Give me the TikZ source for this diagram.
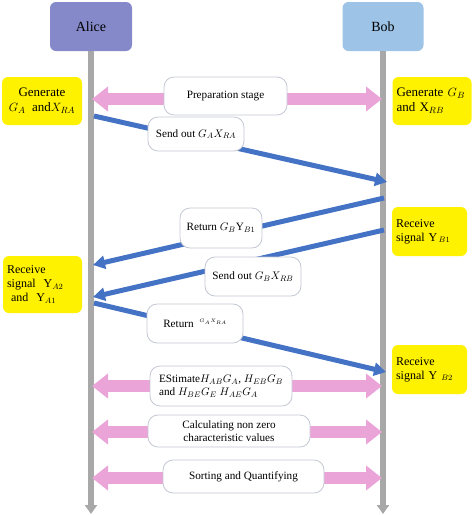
\documentclass[tikz,border=0pt]{standalone}
\usepackage{fontspec}
\setmainfont{Liberation Serif}
\usetikzlibrary{arrows.meta}

\definecolor{alicefill}{RGB}{133,137,202}
\definecolor{bobfill}{RGB}{157,195,230}
\definecolor{pinkband}{RGB}{234,164,216}
\definecolor{blueline}{RGB}{68,114,196}
\definecolor{lifegray}{RGB}{168,168,168}
\definecolor{boxgray}{RGB}{196,200,212}

\tikzstyle{actor} = [rectangle, rounded corners=6pt, minimum width=82pt,
                     minimum height=49pt, text centered,
                     font=\fontsize{14}{16}\selectfont]
\tikzstyle{note} = [rectangle, rounded corners=6pt, fill=yellow, inner sep=4pt,
                    align=left, font=\fontsize{12}{14}\selectfont]
\tikzstyle{stage} = [rectangle, rounded corners=10pt, draw=boxgray, fill=white,
                     line width=0.8pt, text centered, align=center,
                     font=\fontsize{11.2}{13}\selectfont]
\tikzstyle{lifeline} = [line width=6pt, lifegray, -{Triangle[length=9pt,width=12pt]}]
\tikzstyle{exchange} = [line width=12pt, pinkband,
                        {Triangle[length=16pt,width=24pt]}-{Triangle[length=16pt,width=24pt]}]
\tikzstyle{signal} = [line width=5pt, blueline, -{Triangle[length=12pt,width=13pt]}]

\begin{document}
\begin{tikzpicture}[x=1pt,y=1pt]
  \useasboundingbox (0,0) rectangle (474,-515);
  %actors
  \node (alice) [actor, fill=alicefill] at (91,-26.5) {Alice};
  \node (bob) [actor, fill=bobfill, minimum width=81pt] at (383,-26.5) {Bob};
  %lifeline ends
  \coordinate (aend) at (91,-514);
  \coordinate (bend) at (383,-514);
  \draw [lifeline] (alice.south) -- (aend);
  \draw [lifeline] (bob.south) -- (bend);
  %points on the lifelines
  \coordinate (a1) at (92,-99);   \coordinate (b1) at (382,-99);
  \coordinate (a2) at (92,-386);  \coordinate (b2) at (382,-386);
  \coordinate (a3) at (92,-432);  \coordinate (b3) at (382,-432);
  \coordinate (a4) at (92,-478);  \coordinate (b4) at (382,-478);
  \coordinate (sa1) at (94,-116); \coordinate (sb1) at (387,-182);
  \coordinate (sb2) at (384,-198); \coordinate (sa2) at (93,-265);
  \coordinate (sb3) at (384,-230); \coordinate (sa3) at (93,-297);
  \coordinate (sa4) at (94,-303); \coordinate (sb4) at (386,-372);
  %exchanges
  \draw [exchange] (a1) -- (b1);
  \draw [exchange] (a2) -- (b2);
  \draw [exchange] (a3) -- (b3);
  \draw [exchange] (a4) -- (b4);
  %signals
  \draw [signal] (sa1) -- (sb1);
  \draw [signal] (sb2) -- (sa2);
  \draw [signal] (sb3) -- (sa3);
  \draw [signal] (sa4) -- (sb4);
  %yellow notes
  \node (genA) [note, minimum width=80pt, minimum height=48pt, align=center,
                font=\fontsize{13}{15}\selectfont] at (42,-101)
        {Generate\\$G_{A}$\ \ and$X_{RA}$};
  \node (genB) [note, text width=71pt, minimum height=48pt,
                font=\fontsize{13}{15}\selectfont] at (432,-101)
        {Generate $G_{B}$\\and X$_{RB}$};
  \node (recB1) [note, text width=67pt, minimum height=49pt] at (429.5,-231.5)
        {Receive\\signal Y$_{\,B1}$};
  \node (recA) [note, text width=71pt, minimum height=57pt] at (42.5,-284.5)
        {Receive\\signal \ Y$_{A2}$\\ \ and \ Y$_{A1}$};
  \node (recB2) [note, text width=67pt, minimum height=49pt] at (429.5,-369.5)
        {Receive\\signal Y $_{B2}$};
  %stage boxes
  \node (prep) [stage, minimum width=123pt, minimum height=38pt] at (225.5,-96)
        {Preparation stage};
  \node (sendA) [stage, minimum width=96pt, minimum height=34pt] at (196,-134)
        {Send out $G_{A}X_{RA}$};
  \node (retB) [stage, minimum width=82pt, minimum height=40pt] at (221,-228)
        {Return $G_{B}$Y$_{B1}$};
  \node (sendB) [stage, minimum width=96pt, minimum height=39pt] at (253,-276.5)
        {Send out $G_{B}X_{RB}$};
  \node (retA) [stage, minimum width=96pt, minimum height=39pt] at (195,-323.5)
        {Return \ \raisebox{5pt}{\tiny $G_{A}X_{RA}$}};
  \node (est) [stage, minimum width=142pt, minimum height=40pt, align=left]
        at (221,-386)
        {EStimate$H_{AB}G_{A}$, $H_{EB}G_{B}$\\and $H_{BE}G_{E}$ $H_{AE}G_{A}$};
  \node (calc) [stage, minimum width=162pt, minimum height=32pt] at (229,-431)
        {Calculating non zero\\characteristic values};
  \node (sort) [stage, minimum width=161pt, minimum height=33pt] at (243.5,-476.5)
        {Sorting and Quantifying};
\end{tikzpicture}
\end{document}
